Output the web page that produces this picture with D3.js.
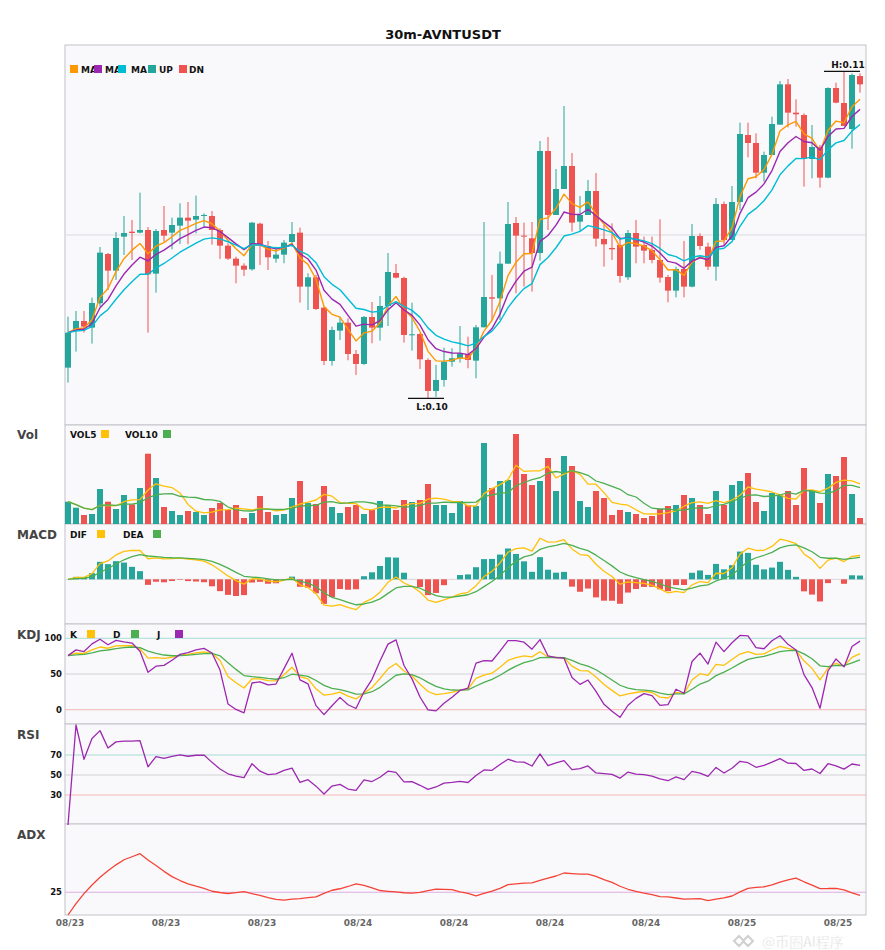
<!DOCTYPE html>
<html lang="en">
<head>
<meta charset="UTF-8">
<title>30m-AVNTUSDT</title>
<script src="https://d3js.org/d3.v7.min.js"></script>
<style>
  body { margin: 0; background: #fff; }
  svg { font-family: "DejaVu Sans", sans-serif; }
</style>
</head>
<body>
<svg id="chart" width="885" height="950"></svg>
<script>
// OHLC (30m candles)
const openP = [0.10102,0.10215,0.10242,0.10222,0.10295,0.10443,0.10393,0.10495,0.10510,0.10507,
  0.10515,0.10384,0.10515,0.10507,0.10528,0.10552,0.10546,0.10558,0.10557,0.10515,
  0.10468,0.10429,0.10408,0.10397,0.10534,0.10467,0.10429,0.10441,0.10479,0.10507,
  0.10345,0.10373,0.10282,0.10122,0.10213,0.10237,0.10143,0.10113,0.10254,0.10222,
  0.10287,0.10386,0.10371,0.10200,0.10203,0.10125,0.10032,0.10065,0.10120,0.10130,
  0.10143,0.10123,0.10223,0.10313,0.10310,0.10414,0.10536,0.10498,0.10490,0.10446,
  0.10752,0.10560,0.10638,0.10707,0.10540,0.10560,0.10632,0.10488,0.10461,0.10470,
  0.10373,0.10506,0.10470,0.10455,0.10425,0.10374,0.10333,0.10398,0.10345,0.10497,
  0.10465,0.10405,0.10593,0.10485,0.10599,0.10800,0.10776,0.10687,0.10740,0.10831,
  0.10952,0.10867,0.10860,0.10728,0.10764,0.10672,0.10941,0.10896,0.10818,0.10977];
const closeP = [0.10207,0.10242,0.10225,0.10296,0.10447,0.10393,0.10491,0.10506,0.10506,0.10515,
  0.10382,0.10512,0.10498,0.10530,0.10552,0.10543,0.10557,0.10560,0.10515,0.10468,
  0.10429,0.10408,0.10396,0.10537,0.10468,0.10433,0.10441,0.10477,0.10503,0.10345,
  0.10373,0.10278,0.10122,0.10215,0.10237,0.10143,0.10113,0.10254,0.10222,0.10287,
  0.10389,0.10372,0.10200,0.10202,0.10127,0.10032,0.10065,0.10120,0.10130,0.10145,
  0.10125,0.10223,0.10314,0.10309,0.10414,0.10533,0.10498,0.10495,0.10446,0.10752,
  0.10560,0.10638,0.10707,0.10537,0.10560,0.10632,0.10489,0.10472,0.10457,0.10377,
  0.10506,0.10465,0.10453,0.10425,0.10372,0.10333,0.10398,0.10345,0.10497,0.10467,
  0.10405,0.10593,0.10485,0.10599,0.10803,0.10776,0.10687,0.10740,0.10833,0.10952,
  0.10867,0.10862,0.10728,0.10764,0.10672,0.10941,0.10897,0.10827,0.10980,0.10952];
const highP = [0.10255,0.10272,0.10272,0.10312,0.10464,0.10446,0.10509,0.10557,0.10545,0.10627,
  0.10524,0.10518,0.10587,0.10552,0.10595,0.10599,0.10618,0.10565,0.10572,0.10520,
  0.10475,0.10435,0.10415,0.10539,0.10537,0.10482,0.10465,0.10485,0.10539,0.10522,
  0.10385,0.10380,0.10285,0.10225,0.10255,0.10250,0.10155,0.10257,0.10299,0.10317,
  0.10446,0.10413,0.10375,0.10297,0.10205,0.10130,0.10110,0.10162,0.10160,0.10227,
  0.10195,0.10230,0.10539,0.10380,0.10450,0.10599,0.10554,0.10537,0.10539,0.10782,
  0.10794,0.10698,0.10887,0.10746,0.10617,0.10665,0.10686,0.10530,0.10535,0.10495,
  0.10515,0.10545,0.10495,0.10495,0.10547,0.10380,0.10405,0.10482,0.10533,0.10505,
  0.10477,0.10611,0.10600,0.10647,0.10837,0.10837,0.10805,0.10750,0.10855,0.10962,
  0.10968,0.10907,0.10865,0.10830,0.10770,0.10943,0.10957,0.10989,0.10985,0.10985];
const lowP = [0.10057,0.10150,0.10207,0.10174,0.10285,0.10335,0.10365,0.10440,0.10425,0.10505,
  0.10207,0.10327,0.10480,0.10457,0.10473,0.10472,0.10505,0.10525,0.10471,0.10428,
  0.10425,0.10355,0.10377,0.10393,0.10410,0.10395,0.10417,0.10415,0.10465,0.10297,
  0.10275,0.10275,0.10110,0.10108,0.10185,0.10124,0.10080,0.10110,0.10175,0.10183,
  0.10227,0.10370,0.10177,0.10153,0.10098,0.10010,0.10014,0.10045,0.10105,0.10117,
  0.10100,0.10070,0.10223,0.10245,0.10245,0.10413,0.10325,0.10345,0.10330,0.10423,
  0.10515,0.10560,0.10638,0.10510,0.10510,0.10560,0.10465,0.10405,0.10425,0.10357,
  0.10365,0.10415,0.10415,0.10415,0.10357,0.10298,0.10313,0.10313,0.10343,0.10455,
  0.10395,0.10363,0.10470,0.10485,0.10575,0.10733,0.10670,0.10660,0.10740,0.10831,
  0.10823,0.10825,0.10645,0.10670,0.10642,0.10670,0.10895,0.10827,0.10759,0.10927];
// volume (K)
const volume = [223,163,90,100,350,223,150,290,197,360,
  703,460,170,130,90,130,120,90,160,210,
  140,190,60,110,280,120,90,100,260,430,
  210,200,380,170,110,170,190,100,140,230,
  190,140,240,220,240,400,190,190,110,230,
  190,180,810,360,430,440,900,500,390,430,
  660,330,680,580,230,170,330,260,90,140,
  120,100,60,80,150,180,190,290,260,190,
  100,330,190,390,430,510,220,130,310,290,
  330,190,560,330,210,500,480,670,300,60];
// x tick labels, one every 12 candles
const tickLabels = ["08/23","08/23","08/23","08/24","08/24","08/24","08/24","08/25","08/25"];
const tickEvery = 12;

const UP = "#26a69a", DN = "#ef5350";
const C_MA5 = "#ff9800", C_MA8 = "#9c27b0", C_MA13 = "#00bcd4";
const C_Y = "#ffc107", C_G = "#4caf50", C_P = "#9c27b0";

// ---- indicators ----
function ewm(arr, a) {
  const out = [];
  arr.forEach((v, i) => out.push(i ? out[i - 1] + a * (v - out[i - 1]) : v));
  return out;
}
const ema = (arr, n) => ewm(arr, 2 / (n + 1));
function sma(arr, n) {
  return arr.map((v, i) => d3.mean(arr.slice(Math.max(0, i - n + 1), i + 1)));
}
const n = closeP.length;
const idx = d3.range(n);

const ma5 = ema(closeP, 5), ma8 = ema(closeP, 8), ma13 = ema(closeP, 13);
const vol5 = sma(volume, 5), vol10 = sma(volume, 10);

// MACD 6,13,5
const emaFast = ema(closeP, 6), emaSlow = ema(closeP, 13);
const dif = emaFast.map((v, i) => v - emaSlow[i]);
const dea = ema(dif, 5);
const hist = dif.map((v, i) => 2 * (v - dea[i]));

// KDJ 9,3,3
const rsv = idx.map(i => {
  const lo = d3.min(lowP.slice(Math.max(0, i - 8), i + 1));
  const hi = d3.max(highP.slice(Math.max(0, i - 8), i + 1));
  return hi > lo ? (closeP[i] - lo) / (hi - lo) * 100 : 50;
});
const kLine = ewm(rsv, 1 / 3), dLine = ewm(kLine, 1 / 3);
const jLine = kLine.map((k, i) => 3 * k - 2 * dLine[i]);

// RSI 14
const chg = closeP.map((c, i) => i ? c - closeP[i - 1] : 0);
const avgG = [], avgL = [];
chg.forEach((c, i) => {
  const g = Math.max(c, 0), l = Math.max(-c, 0);
  avgG.push(i ? avgG[i - 1] + (g - avgG[i - 1]) / 14 : 0);
  avgL.push(i ? avgL[i - 1] + (l - avgL[i - 1]) / 14 : 0);
});
const rsi = idx.map(i => (avgG[i] + avgL[i]) > 0 ? 100 * avgG[i] / (avgG[i] + avgL[i]) : 0);

// ADX
const tr = idx.map(i => i ? Math.max(highP[i] - lowP[i], Math.abs(highP[i] - closeP[i - 1]), Math.abs(lowP[i] - closeP[i - 1])) : highP[i] - lowP[i]);
const pdm = idx.map(i => {
  if (!i) return 0;
  const up = highP[i] - highP[i - 1], dn = lowP[i - 1] - lowP[i];
  return up > dn && up > 0 ? up : 0;
});
const mdm = idx.map(i => {
  if (!i) return 0;
  const up = highP[i] - highP[i - 1], dn = lowP[i - 1] - lowP[i];
  return dn > up && dn > 0 ? dn : 0;
});
const sTR = ewm(tr, 1 / 9), sP = ewm(pdm, 1 / 9), sM = ewm(mdm, 1 / 9);
const dx = idx.map(i => {
  const p = sP[i] / sTR[i] * 100, m = sM[i] / sTR[i] * 100;
  return p + m > 0 ? Math.abs(p - m) / (p + m) * 100 : 0;
});
const adx = ewm(dx, 1 / 8);

// ---- layout ----
const svg = d3.select("#chart");
const L = 65, R = 866;
const panels = {
  main: [45, 425], vol: [425, 524], macd: [524, 624],
  kdj: [624, 724], rsi: [724, 824], adx: [824, 915]
};

const x = d3.scaleBand().domain(idx).range([64, 864]).paddingInner(0.25).paddingOuter(0.125);
const cx = i => x(i) + x.bandwidth() / 2;

Object.values(panels).forEach(([t, b]) => {
  svg.append("rect").attr("x", L).attr("y", t).attr("width", R - L).attr("height", b - t)
    .attr("fill", "#f9f9fb").attr("stroke", "#c2c2ca").attr("stroke-width", 1);
});

svg.append("text").attr("x", 443).attr("y", 39).attr("text-anchor", "middle")
  .attr("font-size", 13).attr("font-weight", "bold").attr("fill", "#111").text("30m-AVNTUSDT");

const yMain = d3.scaleLinear().domain([d3.min(lowP), d3.max(highP)]).range([398.3, 72]);
const yVol = d3.scaleLinear().domain([0, d3.max(volume) * 1.1]).range([524, 425]);
const mAll = dif.concat(dea, hist);
const mMin = d3.min(mAll), mMax = d3.max(mAll), mPad = (mMax - mMin) * 0.2;
const yMacd = d3.scaleLinear().domain([mMin - mPad, mMax + mPad]).range([624, 524]);
const yKdj = d3.scaleLinear().domain([-20, 120]).range([724, 624]);
const yRsi = d3.scaleLinear().domain([0, 100]).range([825, 725]);
const yAdx = d3.scaleLinear().domain([0, 100]).range([915, 824]);

function hline(y, color) {
  svg.append("line").attr("x1", L).attr("x2", R).attr("y1", y).attr("y2", y)
    .attr("stroke", color).attr("stroke-width", 1);
}
yMain.ticks(2).forEach(t => hline(yMain(t), "#dcdce0"));
hline(yMacd(0), "#dcdce0");
hline(yKdj(100), "#a8dcd6"); hline(yKdj(50), "#d2d2d6"); hline(yKdj(0), "#f5b5b5");
hline(yRsi(70), "#a8dcd6"); hline(yRsi(50), "#d2d2d6"); hline(yRsi(30), "#f5b5b5");
hline(yAdx(25), "#dcaee4");

function drawLine(vals, y, color, w) {
  svg.append("path").datum(vals)
    .attr("fill", "none").attr("stroke", color).attr("stroke-width", w)
    .attr("stroke-linejoin", "round")
    .attr("d", d3.line().x((d, i) => cx(i)).y(d => y(d)));
}

// ---- candles ----
const isUp = i => closeP[i] >= openP[i];
const cg = svg.append("g");
cg.selectAll("line.wick").data(idx).join("line")
  .attr("x1", cx).attr("x2", cx)
  .attr("y1", i => yMain(highP[i])).attr("y2", i => yMain(lowP[i]))
  .attr("stroke", i => isUp(i) ? UP : DN).attr("stroke-width", 1);
cg.selectAll("rect").data(idx).join("rect")
  .attr("x", i => x(i)).attr("width", x.bandwidth())
  .attr("y", i => yMain(Math.max(openP[i], closeP[i])))
  .attr("height", i => Math.max(1, Math.abs(yMain(openP[i]) - yMain(closeP[i]))))
  .attr("fill", i => isUp(i) ? UP : DN);

drawLine(ma5, yMain, C_MA5, 1.4);
drawLine(ma8, yMain, C_MA8, 1.4);
drawLine(ma13, yMain, C_MA13, 1.4);

// high / low markers
const iHi = d3.maxIndex(highP), iLo = d3.minIndex(lowP);
const yh = yMain(highP[iHi]) - 0.7, yl = yMain(lowP[iLo]);
svg.append("line").attr("x1", cx(iHi) - 20).attr("x2", cx(iHi) + 16).attr("y1", yh).attr("y2", yh)
  .attr("stroke", "#111").attr("stroke-width", 1.2);
svg.append("text").attr("x", cx(iHi) + 4).attr("y", yh - 3).attr("text-anchor", "middle")
  .attr("font-size", 9).attr("font-weight", "bold").attr("fill", "#111")
  .text("H:" + highP[iHi].toFixed(2));
svg.append("line").attr("x1", cx(iLo) - 20).attr("x2", cx(iLo) + 16).attr("y1", yl).attr("y2", yl)
  .attr("stroke", "#111").attr("stroke-width", 1.2);
svg.append("text").attr("x", cx(iLo) + 4).attr("y", yl + 12).attr("text-anchor", "middle")
  .attr("font-size", 9).attr("font-weight", "bold").attr("fill", "#111")
  .text("L:" + lowP[iLo].toFixed(2));

// ---- volume ----
svg.append("g").selectAll("rect").data(idx).join("rect")
  .attr("x", i => x(i)).attr("width", x.bandwidth())
  .attr("y", i => yVol(volume[i])).attr("height", i => yVol(0) - yVol(volume[i]))
  .attr("fill", i => isUp(i) ? UP : DN);
drawLine(vol5, yVol, C_Y, 1.3);
drawLine(vol10, yVol, C_G, 1.3);

// ---- MACD ----
svg.append("g").selectAll("rect").data(idx).join("rect")
  .attr("x", i => x(i)).attr("width", x.bandwidth())
  .attr("y", i => Math.min(yMacd(hist[i]), yMacd(0)))
  .attr("height", i => Math.abs(yMacd(hist[i]) - yMacd(0)))
  .attr("fill", i => hist[i] >= 0 ? UP : DN);
drawLine(dif, yMacd, C_Y, 1.3);
drawLine(dea, yMacd, C_G, 1.3);

// ---- KDJ / RSI / ADX ----
drawLine(kLine, yKdj, C_Y, 1.3);
drawLine(dLine, yKdj, C_G, 1.3);
drawLine(jLine, yKdj, C_P, 1.3);
drawLine(rsi, yRsi, C_P, 1.3);
drawLine(adx, yAdx, "#f44336", 1.3);

// ---- labels ----
function txt(xp, yp, s, size, color, anchor) {
  svg.append("text").attr("x", xp).attr("y", yp).attr("font-size", size)
    .attr("font-weight", "bold").attr("fill", color).attr("text-anchor", anchor || "start").text(s);
}
function sq(xp, yc, color) {
  svg.append("rect").attr("x", xp).attr("y", yc - 4).attr("width", 8).attr("height", 8).attr("fill", color);
}
[["Vol", 439], ["MACD", 539], ["KDJ", 639], ["RSI", 739], ["ADX", 839]]
  .forEach(([s, yp]) => txt(17, yp, s, 12, "#444"));

[[100, yKdj], [50, yKdj], [0, yKdj], [70, yRsi], [50, yRsi], [30, yRsi], [25, yAdx]]
  .forEach(([v, s]) => txt(62, s(v) + 3, String(v), 8.5, "#111", "end"));

tickLabels.forEach((s, k) => txt(cx(k * tickEvery) + 2, 926, s, 9, "#666", "middle"));

// main legend
txt(81, 72.5, "MA", 9, "#111"); sq(70, 69, C_MA5);
txt(105, 72.5, "MA", 9, "#111"); sq(94, 69, C_MA8);
txt(131, 72.5, "MA", 9, "#111"); sq(118, 69, C_MA13);
sq(148, 69, UP); txt(159, 72.5, "UP", 9, "#111");
sq(179, 69, DN); txt(189, 72.5, "DN", 9, "#111");
// sub legends
txt(70, 437.5, "VOL5", 9, "#111"); sq(101, 434, C_Y);
txt(125, 437.5, "VOL10", 9, "#111"); sq(163, 434, C_G);
txt(70, 537.5, "DIF", 9, "#111"); sq(97, 534, C_Y);
txt(123, 537.5, "DEA", 9, "#111"); sq(153, 534, C_G);
txt(70, 637.5, "K", 9, "#111"); sq(87, 634, C_Y);
txt(113, 637.5, "D", 9, "#111"); sq(131, 634, C_G);
txt(157, 637.5, "J", 9, "#111"); sq(175, 634, C_P);

// watermark (kept clear of the date labels)
const wm = svg.append("g").attr("opacity", 0.55);
wm.append("path").attr("d", "M734,941 l5,-5 l5,5 l-5,5z M743,941 l5,-5 l5,5 l-5,5z")
  .attr("fill", "none").attr("stroke", "#aaa").attr("stroke-width", 2);
wm.append("text").attr("x", 762).attr("y", 947).attr("font-size", 14)
  .attr("font-family", "Noto Sans CJK SC, sans-serif")
  .attr("fill", "#b8b8b8").attr("stroke", "#fff").attr("stroke-width", 0.4)
  .text("@币圈AI程序");
</script>
</body>
</html>
